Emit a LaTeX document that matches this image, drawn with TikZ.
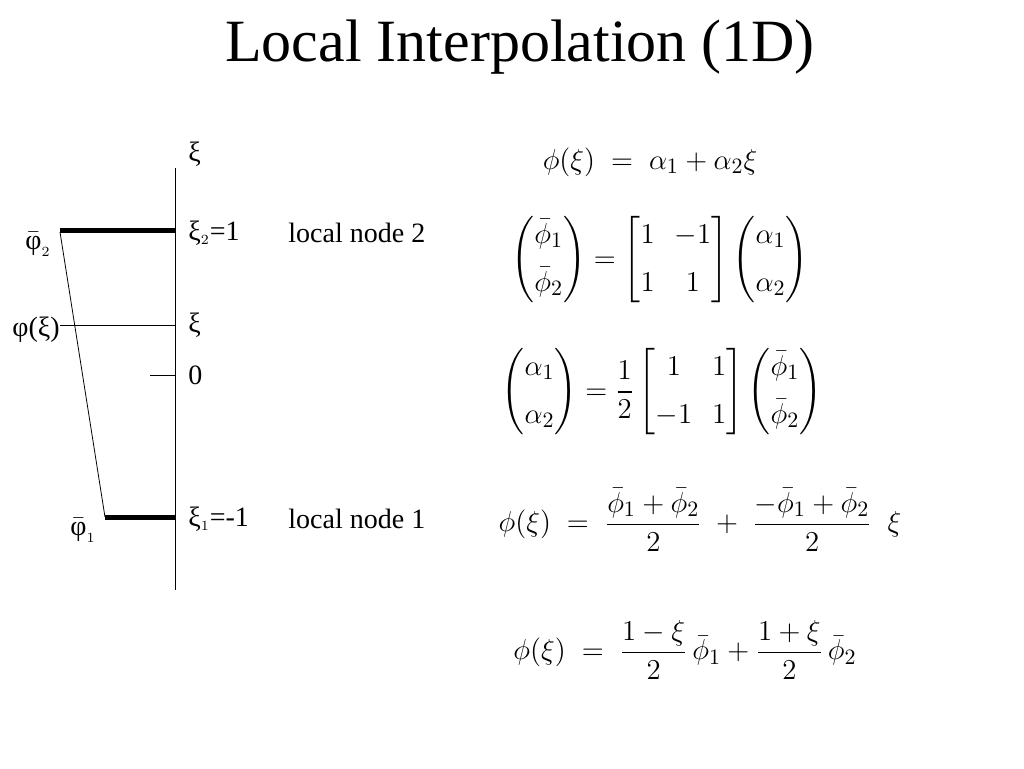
\documentclass[tikz,border=0pt]{standalone}
\usepackage{amsmath}
\usepackage{fontspec}
\setmainfont{Liberation Serif}
\usetikzlibrary{positioning}

\tikzset{
  lbl/.style={anchor=west,inner sep=0pt,font=\fontsize{14}{16}\selectfont},
  eq/.style={inner sep=0pt,font=\fontsize{15.5}{18}\selectfont},
  level/.style={line width=2.5pt}
}

\begin{document}
\begin{tikzpicture}[x=0.5pt,y=-0.5pt]
		\useasboundingbox (0,0) rectangle (1024,768);
		\node (title) [inner sep=0pt,font=\fontsize{30}{34}\selectfont] at (520,47) {Local Interpolation (1D)};
		% axis and levels
		\draw (175,168) -- (175,590);
		\draw[level] (60,230) -- (175,230);
		\draw (60,325) -- (175,325);
		\draw (150,375) -- (175,375);
		\draw[level] (105,517) -- (175,517);
		\draw (60,232) -- (105,517);
		% left labels
		\node (phiTwo) [lbl] at (25,244) {$\bar{\text{φ}}_{\scriptscriptstyle 2}$};
		\node (phiXi) [lbl] at (12,330) {φ(ξ)};
		\node (phiOne) [lbl] at (70,530) {$\bar{\text{φ}}_{\scriptscriptstyle 1}$};
		% right labels
		\node (xiTop) [lbl] at (188,154) {ξ};
		\node (xiTwo) [lbl] at (188,233) {ξ$_{\scriptscriptstyle 2}$=1};
		\node (nodeTwo) [lbl] at (288,233) {local node 2};
		\node (xiMid) [lbl] at (188,325) {ξ};
		\node (zero) [lbl] at (188,375) {0};
		\node (xiOne) [lbl] at (188,519) {ξ$_{\scriptscriptstyle 1}$=-1};
		\node (nodeOne) [lbl] at (288,519) {local node 1};
		% equations
		\node (eqA) [eq] at (650,162) {$\phi(\xi)\;=\;\alpha_1+\alpha_2\xi$};
		\node (eqB) [eq] at (660,260) {$\begin{pmatrix}\bar\phi_1\\[6pt]\bar\phi_2\end{pmatrix}=\begin{bmatrix}1&-1\\[6pt]1&1\end{bmatrix}\begin{pmatrix}\alpha_1\\[6pt]\alpha_2\end{pmatrix}$};
		\node (eqC) [eq] at (662,392) {$\begin{pmatrix}\alpha_1\\[6pt]\alpha_2\end{pmatrix}=\dfrac{1}{2}\begin{bmatrix}1&1\\[6pt]-1&1\end{bmatrix}\begin{pmatrix}\bar\phi_1\\[6pt]\bar\phi_2\end{pmatrix}$};
		\node (eqD) [eq] at (700,520) {$\phi(\xi)\;=\;\dfrac{\bar\phi_1+\bar\phi_2}{2}\;+\;\dfrac{-\bar\phi_1+\bar\phi_2}{2}\;\;\xi$};
		\node (eqE) [eq] at (685,650) {$\phi(\xi)\;=\;\dfrac{1-\xi}{2}\,\bar\phi_1+\dfrac{1+\xi}{2}\,\bar\phi_2$};
	\end{tikzpicture}
\end{document}
